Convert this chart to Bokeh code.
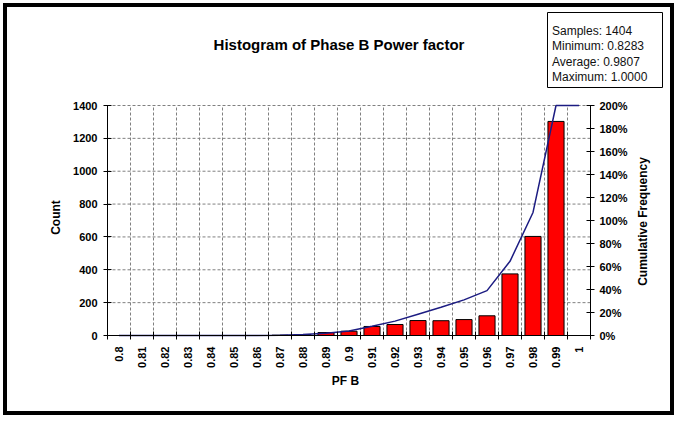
import math

from bokeh.plotting import figure
from bokeh.models import (
    Range1d,
    LinearAxis,
    FixedTicker,
    CustomJSTickFormatter,
    PrintfTickFormatter,
)
from bokeh.core.properties import value
from bokeh.embed import file_html
from bokeh.resources import INLINE

# data
pf_labels = ["0.8", "0.81", "0.82", "0.83", "0.84", "0.85", "0.86", "0.87", "0.88", "0.89", "0.9",
             "0.91", "0.92", "0.93", "0.94", "0.95", "0.96", "0.97", "0.98", "0.99", "1"]
counts = [0, 0, 0, 0, 0, 0, 0, 2, 5, 18, 26, 55, 67, 91, 90, 97, 120, 375, 603, 1303, 0]
cum_pct = [0, 0, 0, 0, 0, 0, 0, 0.3, 0.8, 2, 4, 8, 12.5, 18.5, 24.5, 31, 39, 64.5, 107, 200, 200]
count_ticks = [0, 200, 400, 600, 800, 1000, 1200, 1400]
pct_ticks = [0, 20, 40, 60, 80, 100, 120, 140, 160, 180, 200]
stats = ["Samples: 1404", "Minimum: 0.8283", "Average: 0.9807", "Maximum: 1.0000"]

FONT = "Liberation Sans"
n = len(pf_labels)
centers = [i + 0.5 for i in range(n)]
edges = list(range(n + 1))
COUNT_MAX, PCT_MAX = 1400, 200

# page layout: bins are 23px wide starting at x=107, counts 0..1400 span y 335..105.
# the frame fills the whole canvas (axes use fixed_location) so every text can be
# drawn inside it without being clipped.
W, H = 671, 412
BIN_PX, PLOT_L, PLOT_B, PLOT_H = 23.0, 107, 335, 230
CANVAS_L, CANVAS_T = 7, 7
CANVAS_R, CANVAS_B = CANVAS_L + W, CANVAS_T + H


def xd(px):
    return (px - PLOT_L) / BIN_PX


def yd(py):
    return (PLOT_B - py) * COUNT_MAX / PLOT_H


# css border: 3px margin + 4px line, canvas starts at page (7, 7)
p = figure(width=W, height=H,
           x_range=Range1d(xd(CANVAS_L), xd(CANVAS_R)), y_range=Range1d(yd(CANVAS_B), yd(CANVAS_T)),
           title=None, output_backend="svg", toolbar_location=None,
           min_border_left=0, min_border_right=0, min_border_top=0, min_border_bottom=0,
           styles={"border": "4px solid black", "margin": "3px 0 0 3px"})
p.outline_line_color = None
p.background_fill_color = "white"
p.border_fill_color = "white"
p.extra_y_ranges = {"pct": Range1d(yd(CANVAS_B) * PCT_MAX / COUNT_MAX, yd(CANVAS_T) * PCT_MAX / COUNT_MAX)}
p.xgrid.visible = False
p.ygrid.visible = False

# x axis: labels in the middle of each bin, tick marks on the bin edges
xax = p.xaxis[0]
xax.fixed_location = 0
xax.bounds = (0, n)
xax.ticker = FixedTicker(ticks=centers, minor_ticks=edges)
xax.formatter = CustomJSTickFormatter(args=dict(labels=pf_labels), code="return labels[Math.floor(tick)];")
xax.major_label_orientation = math.pi / 2
xax.major_tick_in = 0
xax.major_tick_out = 0
xax.minor_tick_line_color = "black"
xax.minor_tick_in = 4
xax.minor_tick_out = 4
xax.major_label_standoff = 7

yax = p.yaxis[0]
yax.fixed_location = 0
yax.bounds = (0, COUNT_MAX)
yax.ticker = FixedTicker(ticks=count_ticks)
yax.minor_tick_line_color = None
yax.major_tick_in = 4
yax.major_tick_out = 4
yax.major_label_standoff = 6

rax = LinearAxis(y_range_name="pct", ticker=FixedTicker(ticks=pct_ticks),
                 formatter=PrintfTickFormatter(format="%d%%"),
                 bounds=(0, PCT_MAX), fixed_location=n)
rax.minor_tick_line_color = None
rax.major_tick_in = 4
rax.major_tick_out = 4
rax.major_label_standoff = 5
p.add_layout(rax, "right")

for ax in (xax, yax, rax):
    ax.axis_line_color = "black"
    ax.major_tick_line_color = None if ax is xax else "black"
    ax.major_label_text_font = FONT
    ax.major_label_text_font_style = "bold"
    ax.major_label_text_font_size = "11px"
    ax.major_label_text_color = "black"

# dashed grid limited to the plot area
grid = dict(line_color="#808080", line_width=1, line_dash="3 2")
p.segment(x0=edges[1:], y0=0, x1=edges[1:], y1=COUNT_MAX, **grid)
p.segment(x0=0, y0=count_ticks[1:], x1=n, y1=count_ticks[1:], **grid)

p.vbar(x=centers, top=counts, width=0.7, fill_color="#ff0000", line_color="black", line_width=1)
p.line(x=centers, y=cum_pct, y_range_name="pct", line_color="#1c1c82", line_width=1.5)

# axis titles
axis_title = dict(text_align="center", text_baseline="middle", text_font=value(FONT),
                  text_font_style="bold", text_font_size="12px", text_color="black")
p.text(x=[xd(55)], y=[yd(217)], text=["Count"], angle=math.pi / 2, **axis_title)
p.text(x=[xd(345)], y=[yd(380)], text=["PF B"], **axis_title)
p.text(x=[xd(642.5)], y=[yd(221)], text=["Cumulative Frequency"], angle=math.pi / 2, **axis_title)

p.text(x=[xd(338.5)], y=[yd(44)], text=["Histogram of Phase B Power factor"],
       text_align="center", text_baseline="alphabetic", text_font=value(FONT),
       text_font_style="bold", text_font_size="15px", text_color="black")

# stats box in the top right corner
p.quad(left=[xd(547)], right=[xd(662)], top=[yd(12)], bottom=[yd(87)],
       fill_color="white", line_color="black", line_width=1)
p.text(x=[xd(551.5)] * len(stats), y=[yd(30.5 + 15.3 * i) for i in range(len(stats))], text=stats,
       text_align="left", text_baseline="alphabetic", text_font=value(FONT),
       text_font_size="12px", text_color="#111111")

open("out.html", "w").write(file_html(p, INLINE))
